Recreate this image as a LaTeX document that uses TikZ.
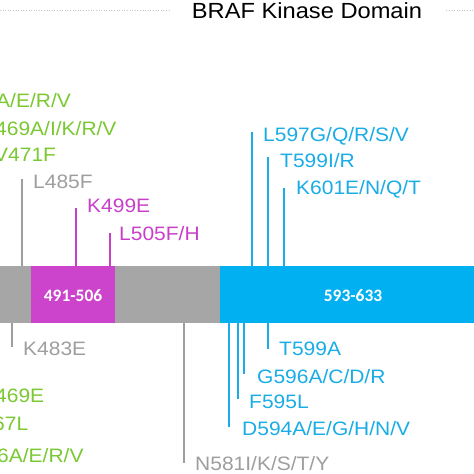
\documentclass[tikz,border=0pt]{standalone}
\usepackage{fontspec}
\usepackage{xcolor}
\usepackage{tikz}
\usetikzlibrary{positioning}
\newfontfamily\lblfont{Liberation Sans}[FakeStretch=1.08]
\newfontfamily\boxfont{Carlito}
\definecolor{mutgreen}{RGB}{122,200,50}
\definecolor{mutgray}{RGB}{158,158,158}
\definecolor{mutpink}{RGB}{200,64,200}
\definecolor{mutblue}{RGB}{26,172,230}
\definecolor{barpink}{RGB}{204,68,204}
\definecolor{barblue}{RGB}{0,176,240}
\definecolor{bargray}{RGB}{166,166,166}
\tikzset{
  mut/.style={anchor=base west, inner sep=0pt, font=\lblfont\fontsize{19.5}{21}\selectfont},
  boxlbl/.style={anchor=base, inner sep=0pt, text=white, font=\boxfont\bfseries\fontsize{17.5}{19}\selectfont},
  tick/.style={line width=1.5bp}
}
\begin{document}
\begin{tikzpicture}[x=1bp, y=-1bp]
\useasboundingbox (0,0) rectangle (474,474);
\clip (0,0) rectangle (474,474);
% Title with dotted rules
\node[anchor=base, inner sep=0pt, font=\lblfont\fontsize{22}{24}\selectfont] (title) at (307,19) {BRAF Kinase Domain};
\coordinate (ruleL) at (0,10);
\coordinate (ruleR) at (474,10);
\draw[dotted, gray!45, line width=0.6bp] (ruleL) -- ([xshift=-23bp]title.west |- ruleL);
\draw[dotted, gray!45, line width=0.6bp] ([xshift=24bp]title.east |- ruleR) -- (ruleR);
% Kinase domain bar
\fill[bargray] (0,266) rectangle (31,323);
\fill[barpink] (31,266) rectangle (115,323);
\fill[bargray] (115,266) rectangle (220,323);
\fill[barblue] (220,266) rectangle (474,323);
\coordinate (bartop) at (0,266);
\coordinate (barbot) at (0,323);
\node[boxlbl] (p491) at (73,301) {491-506};
\node[boxlbl] (p593) at (353,301) {593-633};
% Glycine-rich loop (cut at the left edge)
\node[mut, text=mutgreen] (g466a) at (-4,108) {A/E/R/V};
\node[mut, text=mutgreen] (g469a) at (-5,136) {469A/I/K/R/V};
\node[mut, text=mutgreen] (v471f) at (-6,162) {V471F};
\node[mut, text=mutgreen] (g469e) at (-5,402) {469E};
\node[mut, text=mutgreen] (e467l) at (-7,430) {67L};
\node[mut, text=mutgreen] (g466b) at (-3,462) {6A/E/R/V};
% Gray region mutations
\node[mut, text=mutgray] (l485f) at (33,189) {L485F};
\coordinate (t485) at (22,179);
\draw[tick, mutgray] (t485) -- (t485 |- bartop);
\node[mut, text=mutgray] (k483e) at (23,355) {K483E};
\coordinate (t483) at (12,347);
\draw[tick, mutgray] (t483 |- barbot) -- (t483);
\node[mut, text=mutgray] (n581) at (195,470) {N581I/K/S/T/Y};
\coordinate (t581) at (184,463);
\draw[tick, mutgray] (t581 |- barbot) -- (t581);
% aC-helix mutations
\node[mut, text=mutpink] (k499e) at (87,213) {K499E};
\coordinate (t499) at (76,208);
\draw[tick, mutpink] (t499) -- (t499 |- bartop);
\node[mut, text=mutpink] (l505f) at (119,240) {L505F/H};
\coordinate (t505) at (110,233);
\draw[tick, mutpink] (t505) -- (t505 |- bartop);
% Activation segment, above the bar
\node[mut, text=mutblue] (l597) at (263,142) {L597G/Q/R/S/V};
\coordinate (t597) at (252,132);
\draw[tick, mutblue] (t597) -- (t597 |- bartop);
\node[mut, text=mutblue] (t599ir) at (280,168) {T599I/R};
\coordinate (t599) at (268,157);
\draw[tick, mutblue] (t599) -- (t599 |- bartop);
\node[mut, text=mutblue] (k601) at (296,195) {K601E/N/Q/T};
\coordinate (t601) at (284,188);
\draw[tick, mutblue] (t601) -- (t601 |- bartop);
% Activation segment, below the bar
\node[mut, text=mutblue] (t599a) at (279,355) {T599A};
\coordinate (b599) at (268,349);
\draw[tick, mutblue] (b599 |- barbot) -- (b599);
\node[mut, text=mutblue] (g596) at (257,383) {G596A/C/D/R};
\coordinate (b596) at (244,374);
\draw[tick, mutblue] (b596 |- barbot) -- (b596);
\node[mut, text=mutblue] (f595) at (249,408) {F595L};
\coordinate (b595) at (238,399);
\draw[tick, mutblue] (b595 |- barbot) -- (b595);
\node[mut, text=mutblue] (d594) at (242,435) {D594A/E/G/H/N/V};
\coordinate (b594) at (229,427);
\draw[tick, mutblue] (b594 |- barbot) -- (b594);
\end{tikzpicture}
\end{document}
